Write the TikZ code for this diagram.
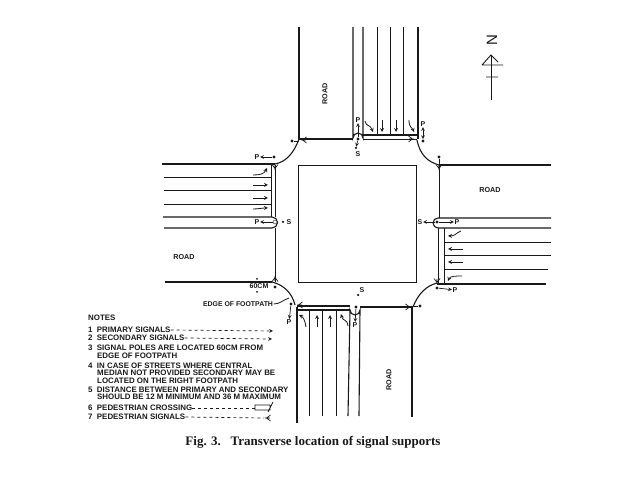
\documentclass[tikz,border=0pt]{standalone}
\usepackage{fontspec}
\setmainfont{Liberation Sans}
\newfontfamily\capfont{Liberation Serif}
\usetikzlibrary{arrows, positioning}
\definecolor{ink}{gray}{0.1}
\begin{document}
\begin{tikzpicture}
  [x=1pt, y=-1pt, >=stealth, color=ink,
   road/.style={line width=1.1pt},
   thin road/.style={line width=0.8pt},
   laneline/.style={line width=0.9pt},
   lanearrow/.style={->, line width=0.8pt},
   signal/.style={->, line width=0.7pt},
   pole/.style={circle, fill=ink, inner sep=0pt, minimum size=3.4pt},
   sig/.style={inner sep=0.5pt, font=\bfseries\fontsize{7}{7}\selectfont},
   roadlabel/.style={font=\bfseries\fontsize{7.2}{7}\selectfont},
   noteline/.style={anchor=west, inner sep=0pt, font=\bfseries\fontsize{7.9}{7}\selectfont},
   pedmark/.pic={\draw [line width=0.7pt] (-2.5,-3) -- (1.5,0) -- (-2.5,3) (-2,0) -- (3,0);}]
  \useasboundingbox (0,0) rectangle (638,478);
  % square
  \draw [line width=0.9pt] (298,165) rectangle (416,282);
  % top arm
  \draw [road] (299,27) -- (299,139) -- (353,139);
  \draw [road] (299,139) .. controls (293,155) and (285,162) .. (275,164);
  \draw [road] (353,27) -- (353,138) arc [start angle=180, end angle=360, radius=5] -- (363,27);
  \foreach \x in {377, 390, 403}{
    \draw [laneline] (\x,27) -- (\x,135);
  }
  \draw [road] (418,27) -- (418,139);
  \draw [road] (363,135) -- (417,135) (363,139.5) -- (417,139.5);
  \draw [road] (417,140) .. controls (420,155) and (428,162) .. (439,165);
  % left arm
  \draw [road] (162,164) -- (275,164);
  \foreach \y in {177, 190, 204}{
    \draw [laneline] (164,\y) -- (271,\y);
  }
  \draw [road] (163,217) -- (272,217) arc [start angle=-90, end angle=90, radius=5.5] -- (164,228);
  \draw [thin road] (271,165) -- (271,217) (275.5,165) -- (275.5,217) (275.5,228) -- (275.5,282);
  \draw [road] (165,282) -- (272,282);
  \draw [road] (272,282) .. controls (284,285) and (292,293) .. (295,305);
  % right arm
  \draw [road] (439,165) -- (551,165);
  \draw [road] (551,218) -- (438,218) arc [start angle=270, end angle=90, radius=5] -- (551,228);
  \draw [laneline] (444,242) -- (551,242);
  \draw [laneline] (444,255) -- (551,255);
  \draw [laneline] (444,269) -- (548,269);
  \draw [road] (437,284) -- (546,284);
  \draw [thin road] (439.5,165) -- (439.5,218) (438.5,228) -- (438.5,283) (444,228) -- (444,284);
  \draw [road] (437,283) .. controls (426,286) and (418,294) .. (413,307);
  % bottom arm
  \draw [road] (297,307) -- (297,423);
  \foreach \x in {309, 322, 336}{
    \draw [laneline] (\x,310) -- (\x,416);
  }
  \draw [road] (348,416) -- (350,310) arc [start angle=180, end angle=0, radius=5] -- (359,416);
  \draw [road] (297,306) -- (350,306) (297,310) -- (350,310);
  \draw [road] (360,307) -- (412,307) -- (412,417);
  % lane arrows
  \foreach \x in {382, 396}{
    \draw [lanearrow] (\x,120) -- (\x,132);
  }
  \draw [lanearrow] (365,121) .. controls (366,127) and (370,124) .. (373,132);
  \draw [lanearrow] (409,120) .. controls (409,128) and (412,127) .. (414,132);
  \foreach \y in {185, 198}{
    \draw [lanearrow] (253,\y) -- (268,\y);
  }
  \draw [lanearrow] (253,175) .. controls (260,175) and (264,174) .. (267,168);
  \draw [lanearrow] (253,209) .. controls (258,209) and (262,208) .. (268,208);
  \foreach \y in {249, 262}{
    \draw [lanearrow] (463,\y) -- (448,\y);
  }
  \draw [lanearrow] (461,231) .. controls (456,233) and (455,236) .. (448,236);
  \draw [lanearrow] (462,276) .. controls (456,276) and (450,276) .. (448,281);
  \foreach \x in {317, 330}{
    \draw [lanearrow] (\x,327) -- (\x,315);
  }
  \draw [lanearrow] (306,327) .. controls (305,320) and (303,317) .. (299,315);
  \draw [lanearrow] (348,326) .. controls (347,318) and (343,322) .. (341,314);
  % signals
  \node (pnl) at (358,120) [sig] {P};
  \node (dnl) at (358,139) [pole] {};
  \node (snd) at (356,148) [pole, minimum size=2.5pt] {};
  \node (snl) at (358,154) [sig] {S};
  \draw [signal] (dnl) -- (pnl);
  \draw [signal] (dnl) -- (snd);
  \node (pnr) at (423,124) [sig] {P};
  \node (dnr) at (423,141) [pole] {};
  \draw [signal, <->] (dnr) -- (pnr);
  \node (dnw) at (292,141) [pole] {};
  \draw (dnw) -- (299,141);
  \path (304,140) pic [rotate=180] {pedmark};
  \path (411,139) pic {pedmark};
  \node (pwt) at (257,157) [sig] {P};
  \node (dwt) at (274,157) [pole] {};
  \draw [signal] (dwt) -- (pwt);
  \path (275,167) pic [rotate=-90] {pedmark};
  \node (pwm) at (257,222) [sig] {P};
  \node (dwm) at (275,222) [circle, draw=ink, fill=white, inner sep=0pt, minimum size=4pt] {};
  \node (swd) at (283,222) [pole, minimum size=2.5pt] {};
  \node (swm) at (289,222) [sig] {S};
  \draw [signal] (dwm) -- (pwm);
  \path (275,279) pic [rotate=90] {pedmark};
  \node (dwb) at (275,287) [pole] {};
  \node (cm) at (259,286) [sig] {60CM};
  \node (tka) at (257,279) [pole, minimum size=2pt] {};
  \node (tkb) at (257,292) [pole, minimum size=2pt] {};
  \node (edge) at (238,304) [sig, font=\bfseries\fontsize{6.9}{7}\selectfont] {EDGE OF FOOTPATH};
  \draw [line width=0.8pt] (edge.east) .. controls (280,304) and (283,300) .. (289,298);
  \node (dsw) at (291,304) [pole] {};
  \node (psw) at (289,322) [sig] {P};
  \draw [signal] (dsw) -- (psw);
  \path (300,305) pic [rotate=180] {pedmark};
  \node (dsm) at (356,307) [pole] {};
  \node (psm) at (355,325) [sig] {P};
  \node (ssd) at (358,295) [pole, minimum size=2.5pt] {};
  \node (ssm) at (362,290) [sig] {S};
  \draw [signal] (dsm) -- (psm);
  \path (408,307) pic {pedmark};
  \node (dse) at (420,306) [pole] {};
  \draw (413,306) -- (dse);
  \node (det) at (439,157) [pole] {};
  \draw (det) -- (439,165);
  \path (439,167) pic [rotate=-90] {pedmark};
  \node (sem) at (420,222) [sig] {S};
  \node (dem) at (437,222) [pole] {};
  \node (pem) at (457,222) [sig] {P};
  \draw [signal] (dem) -- (sem);
  \draw [signal] (dem) -- (pem);
  \path (437,281) pic [rotate=-90] {pedmark};
  \node (deb) at (437,288) [pole] {};
  \node (peb) at (455,290) [sig] {P};
  \draw [signal] (deb) -- (peb);
  % road names
  \node at (325,94) [roadlabel, rotate=90] {ROAD};
  \node at (490,190) [roadlabel] {ROAD};
  \node at (184,257) [roadlabel] {ROAD};
  \node at (389,380) [roadlabel, rotate=90] {ROAD};
  % north
  \node (north) at (492,40) [rotate=90, font=\fontsize{15}{15}\selectfont] {N};
  \coordinate (ntip) at (491,55);
  \coordinate (nend) at (491,100);
  \draw [line width=0.9pt] (ntip) -- (nend);
  \draw [line width=0.9pt] (482,65) -- (ntip) -- (498,62) (482,65) -- (503,65) (486,77) -- (498,77);
  % notes
  \node (notes) at (88,318) [noteline] {NOTES};
  \node (noa) at (88,330) [noteline] {1\ \ PRIMARY SIGNALS};
  \node (nob) at (88,338) [noteline] {2\ \ SECONDARY SIGNALS};
  \node (noc) at (88,348) [noteline] {3\ \ SIGNAL POLES ARE LOCATED 60CM FROM};
  \node at (97,356) [noteline] {EDGE OF FOOTPATH};
  \node at (88,366) [noteline] {4\ \ IN CASE OF STREETS WHERE CENTRAL};
  \node at (97,373) [noteline] {MEDIAN NOT PROVIDED SECONDARY MAY BE};
  \node at (97,381) [noteline] {LOCATED ON THE RIGHT FOOTPATH};
  \node at (88,390) [noteline] {5\ \ DISTANCE BETWEEN PRIMARY AND SECONDARY};
  \node at (97,397) [noteline] {SHOULD BE 12 M MINIMUM AND 36 M MAXIMUM};
  \node (nof) at (88,408) [noteline] {6\ \ PEDESTRIAN CROSSING};
  \node (nog) at (88,417) [noteline] {7\ \ PEDESTRIAN SIGNALS};
  \coordinate (ena) at (273,331);
  \coordinate (enb) at (272,339);
  \coordinate (enf) at (255,408);
  \coordinate (eng) at (264,418);
  \draw [signal, dashed] (noa.east) -- (ena);
  \draw [signal, dashed] (nob.east) -- (enb);
  \draw [dashed, line width=0.7pt] (nof.east) -- (enf);
  \draw [dashed, line width=0.7pt] (nog.east) -- (eng);
  \draw [line width=0.7pt] (255,405) rectangle (270,410) (268,412) -- (273,402);
  \path (268,418) pic [rotate=180] {pedmark};
  % caption
  \node (caption) at (313,442) [font=\capfont\bfseries\fontsize{13}{13}\selectfont] {Fig. 3.\ \ \ Transverse location of signal supports};
\end{tikzpicture}
\end{document}
